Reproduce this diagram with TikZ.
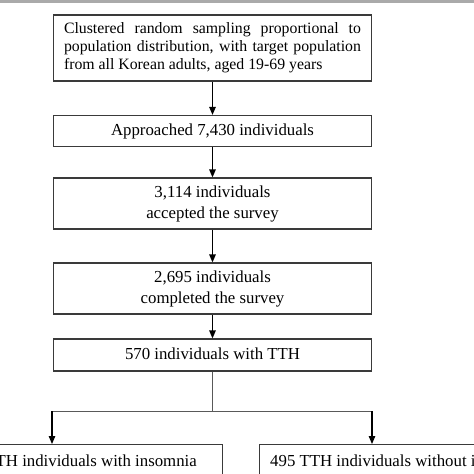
\documentclass[tikz,border=0pt]{standalone}
\usepackage{fontspec}
\setmainfont{Liberation Serif}
\usetikzlibrary{arrows.meta}
\definecolor{boxline}{HTML}{3A3A3A}
\definecolor{topbar}{HTML}{AAAAAA}
\newcommand{\lowtext}[2][c]{\raisebox{-3pt}{\begin{tabular}{@{}#1@{}}#2\end{tabular}}}
\tikzset{
  flowbox/.style={draw=boxline, line width=1.2pt, fill=white, inner sep=0pt,
    font=\fontsize{16.8}{21}\selectfont, align=center},
  flowtext/.style={font=\fontsize{16.8}{21}\selectfont, inner sep=0pt},
  arr/.style={draw=black, line width=1.3pt, -{Triangle[width=6.5pt,length=8pt]}},
  splitline/.style={draw=black!65, line width=0.9pt},
}
\begin{document}
\begin{tikzpicture}[x=1pt,y=-1pt]
\useasboundingbox (0,0) rectangle (474,474);
\clip (0,0) rectangle (474,474);
\fill[white] (0,0) rectangle (474,474);
\fill[topbar] (0,0) rectangle (474,2.5);
\node[flowbox, minimum width=318pt, minimum height=66pt,
  font=\fontsize{15.8}{18.3}\selectfont] (n1) at (212.5,48)
  {\lowtext[l]{\makebox[297pt][s]{Clustered random sampling proportional to}\\
   \makebox[297pt][s]{population distribution, with target population}\\
   from all Korean adults, aged 19-69 years}};
\node[flowbox, minimum width=318pt, minimum height=31pt] (n2) at (212.5,131)
  {\lowtext{Approached 7,430 individuals}};
\node[flowbox, minimum width=318pt, minimum height=51pt] (n3) at (212.5,203.5)
  {\lowtext{3,114 individuals\\accepted the survey}};
\node[flowbox, minimum width=318pt, minimum height=51pt] (n4) at (212.5,288.5)
  {\lowtext{2,695 individuals\\completed the survey}};
\node[flowbox, minimum width=318pt, minimum height=32pt] (n5) at (212.5,355)
  {\lowtext{570 individuals with TTH}};
\node[flowbox, minimum width=290pt, minimum height=60pt, anchor=north east] (n6) at (223,444) {};
\node[flowtext, anchor=base east] (t6) at (197,466)
  {75 TTH individuals with insomnia};
\node[flowbox, minimum width=290pt, minimum height=60pt, anchor=north west] (n7) at (259,444) {};
\node[flowtext, anchor=base west] (t7) at (270,466)
  {495 TTH individuals without insomnia};
\coordinate (split) at (212.5,411);
\coordinate (sl) at (52,411);
\coordinate (sr) at (372,411);
\draw[arr] (n1) -- (n2);
\draw[arr] (n2) -- (n3);
\draw[arr] (n3) -- (n4);
\draw[arr] (n4) -- (n5);
\draw[splitline] (n5) -- (split);
\draw[splitline] (sl) -- (sr);
\draw[arr, line width=1.1pt] (sl) -- (sl |- n6.north);
\draw[arr, line width=1.1pt] (sr) -- (sr |- n7.north);
\end{tikzpicture}
\end{document}
